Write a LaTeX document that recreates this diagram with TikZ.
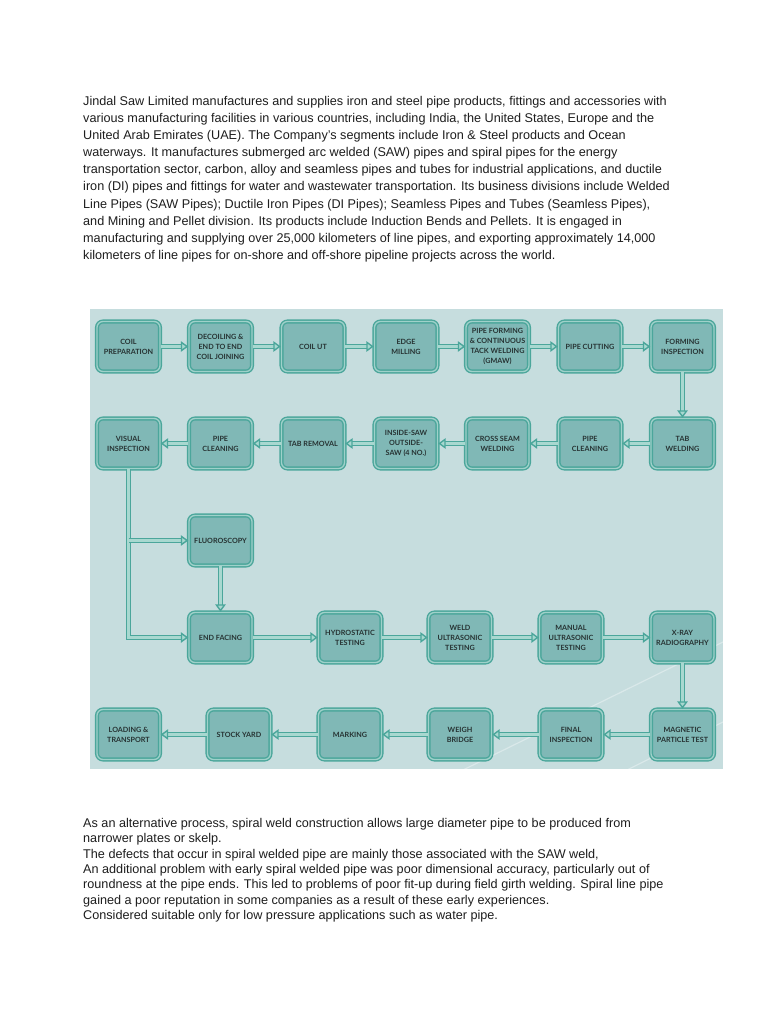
\documentclass[tikz,border=0pt]{standalone}
\usepackage{fontspec}
\setmainfont{Liberation Sans}
\newfontfamily\boxfont{Lato}
\usetikzlibrary{arrows.meta}
\definecolor{bgdiag}{HTML}{C6DDDE}
\definecolor{boxfill}{HTML}{80B8B6}
\definecolor{boxline}{HTML}{4BA69B}
\definecolor{boxring}{HTML}{9FD1CA}
\definecolor{arrfill}{HTML}{A8D8D0}
\definecolor{boxtext}{HTML}{263232}
\definecolor{bodytext}{HTML}{1E1E1E}
\tikzset{
  stepbox/.style={draw=boxline, line width=1.4pt, double=boxring, double distance=1.3pt,
    fill=boxfill, rounded corners=6pt, minimum width=63pt, minimum height=50pt,
    align=center, text=boxtext, font=\boxfont\bfseries\fontsize{7.2}{10}\selectfont, inner sep=1pt},
  arr/.style={draw=boxline, line width=1.4pt, double=arrfill, double distance=2.6pt,
    -{Triangle[length=7.5pt,width=10.5pt,fill=arrfill]}},
  bodyline/.style={anchor=base west, inner sep=0pt, text=bodytext, font=\fontsize{12.65}{15}\selectfont},
  deco/.style={draw=white, opacity=0.35, line width=1.2pt}
}
\begin{document}
\begin{tikzpicture}[x=1pt,y=-1pt]
\useasboundingbox (0,0) rectangle (768,1024);
\fill[white] (0,0) rectangle (768,1024);
% body text, paragraph 1
\node[bodyline] (p1) at (83,105.5) {Jindal Saw Limited manufactures and supplies iron and steel pipe products, fittings and accessories with};
\node[bodyline] (p2) at (83,122.6) {various manufacturing facilities in various countries, including India, the United States, Europe and the};
\node[bodyline] (p3) at (83,139.7) {United Arab Emirates (UAE). The Company's segments include Iron \& Steel products and Ocean};
\node[bodyline] (p4) at (83,156.8) {waterways. It manufactures submerged arc welded (SAW) pipes and spiral pipes for the energy};
\node[bodyline] (p5) at (83,173.9) {transportation sector, carbon, alloy and seamless pipes and tubes for industrial applications, and ductile};
\node[bodyline] (p6) at (83,191.0) {iron (DI) pipes and fittings for water and wastewater transportation. Its business divisions include Welded};
\node[bodyline] (p7) at (83,208.1) {Line Pipes (SAW Pipes); Ductile Iron Pipes (DI Pipes); Seamless Pipes and Tubes (Seamless Pipes),};
\node[bodyline] (p8) at (83,225.2) {and Mining and Pellet division. Its products include Induction Bends and Pellets. It is engaged in};
\node[bodyline] (p9) at (83,242.3) {manufacturing and supplying over 25,000 kilometers of line pipes, and exporting approximately 14,000};
\node[bodyline] (p10) at (83,259.4) {kilometers of line pipes for on-shore and off-shore pipeline projects across the world.};
% diagram background
\fill[bgdiag] (90,309) rectangle (723,769);
\begin{scope}
\clip (90,309) rectangle (723,769);
\draw[deco] (463,770) -- (723,642);
\draw[deco] (627,770) -- (723,722);
\end{scope}
% row 1
\node[stepbox] (coil) at (128.5,346.5) {COIL\\PREPARATION};
\node[stepbox] (decoil) at (220.5,346.5) {DECOILING \&\\END TO END\\COIL JOINING};
\node[stepbox] (coilut) at (313,346.5) {COIL UT};
\node[stepbox] (edge) at (406,346.5) {EDGE\\MILLING};
\node[stepbox] (form) at (497.5,346.5) {PIPE FORMING\\\& CONTINUOUS\\TACK WELDING\\(GMAW)};
\node[stepbox] (cut) at (590,346.5) {PIPE CUTTING};
\node[stepbox] (finsp) at (682.5,346.5) {FORMING\\INSPECTION};
% row 2
\node[stepbox] (visual) at (128.5,443.5) {VISUAL\\INSPECTION};
\node[stepbox] (clean2) at (220.5,443.5) {PIPE\\CLEANING};
\node[stepbox] (tabrem) at (313,443.5) {TAB REMOVAL};
\node[stepbox] (saw) at (406,443.5) {INSIDE-SAW\\OUTSIDE-\\SAW (4 NO.)};
\node[stepbox] (cross) at (497.5,443.5) {CROSS SEAM\\WELDING};
\node[stepbox] (clean1) at (590,443.5) {PIPE\\CLEANING};
\node[stepbox] (tabw) at (682.5,443.5) {TAB\\WELDING};
% fluoroscopy
\node[stepbox] (fluo) at (220.5,540.5) {FLUOROSCOPY};
% row 4
\node[stepbox] (endf) at (220.5,637.5) {END FACING};
\node[stepbox] (hydro) at (350,637.5) {HYDROSTATIC\\TESTING};
\node[stepbox] (weldut) at (460,637.5) {WELD\\ULTRASONIC\\TESTING};
\node[stepbox] (manut) at (571,637.5) {MANUAL\\ULTRASONIC\\TESTING};
\node[stepbox] (xray) at (682.5,637.5) {X-RAY\\RADIOGRAPHY};
% row 5
\node[stepbox] (load) at (128.5,734.5) {LOADING \&\\TRANSPORT};
\node[stepbox] (stock) at (239,734.5) {STOCK YARD};
\node[stepbox] (mark) at (350,734.5) {MARKING};
\node[stepbox] (weigh) at (460,734.5) {WEIGH\\BRIDGE};
\node[stepbox] (final) at (571,734.5) {FINAL\\INSPECTION};
\node[stepbox] (mpt) at (682.5,734.5) {MAGNETIC\\PARTICLE TEST};
% connectors
\draw[arr] (coil) -- (decoil);
\draw[arr] (decoil) -- (coilut);
\draw[arr] (coilut) -- (edge);
\draw[arr] (edge) -- (form);
\draw[arr] (form) -- (cut);
\draw[arr] (cut) -- (finsp);
\draw[arr] (finsp) -- (tabw);
\draw[arr] (tabw) -- (clean1);
\draw[arr] (clean1) -- (cross);
\draw[arr] (cross) -- (saw);
\draw[arr] (saw) -- (tabrem);
\draw[arr] (tabrem) -- (clean2);
\draw[arr] (clean2) -- (visual);
\draw[arr] (visual.south) |- (endf.west);
\draw[arr] (visual.south |- fluo.west) -- (fluo.west);
\draw[arr] (fluo) -- (endf);
\draw[arr] (endf) -- (hydro);
\draw[arr] (hydro) -- (weldut);
\draw[arr] (weldut) -- (manut);
\draw[arr] (manut) -- (xray);
\draw[arr] (xray) -- (mpt);
\draw[arr] (mpt) -- (final);
\draw[arr] (final) -- (weigh);
\draw[arr] (weigh) -- (mark);
\draw[arr] (mark) -- (stock);
\draw[arr] (stock) -- (load);
% body text, paragraph 2
\node[bodyline] (q1) at (83,827.5) {As an alternative process, spiral weld construction allows large diameter pipe to be produced from};
\node[bodyline] (q2) at (83,842.8) {narrower plates or skelp.};
\node[bodyline] (q3) at (83,858.1) {The defects that occur in spiral welded pipe are mainly those associated with the SAW weld,};
\node[bodyline] (q4) at (83,873.4) {An additional problem with early spiral welded pipe was poor dimensional accuracy, particularly out of};
\node[bodyline] (q5) at (83,888.7) {roundness at the pipe ends. This led to problems of poor fit-up during field girth welding. Spiral line pipe};
\node[bodyline] (q6) at (83,904.0) {gained a poor reputation in some companies as a result of these early experiences.};
\node[bodyline] (q7) at (83,919.3) {Considered suitable only for low pressure applications such as water pipe.};
\end{tikzpicture}
\end{document}
